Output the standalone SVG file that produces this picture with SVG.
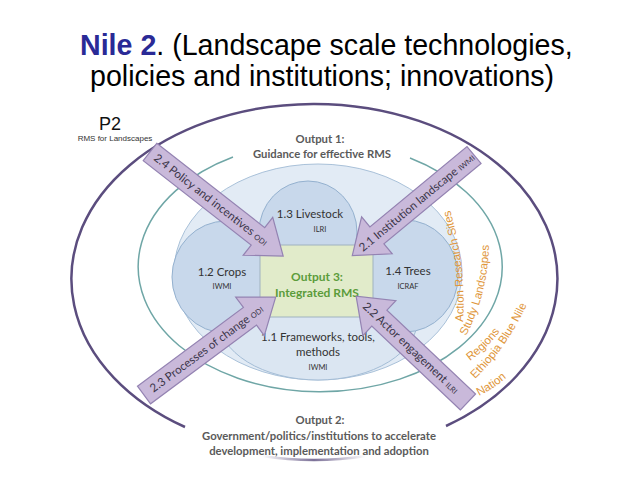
<svg xmlns="http://www.w3.org/2000/svg" width="638" height="478" viewBox="0 0 638 478">
<style>
.title{font-family:"Liberation Sans",Arial,sans-serif;font-size:28.6px;fill:#000}
.lbl{font-family:Lato,"Open Sans",sans-serif;fill:#333;text-anchor:middle}
.out{font-family:Lato,"Open Sans",sans-serif;font-weight:bold;fill:#5a5a5a;text-anchor:middle;font-size:11.3px}
.arrow{fill:#c9b9da;stroke:#9483b2;stroke-width:1.2}
.at{font-family:Lato,"Open Sans",sans-serif;font-size:11.5px;fill:#3a3548}
.sm{font-size:7.5px}
.or{font-family:"Liberation Sans",Arial,sans-serif;font-size:11.5px;fill:#e0963a}
.circ{fill:#c8d8eb;stroke:#94b1cf;stroke-width:1}
</style>
<defs>
<linearGradient id="fade" x1="0" x2="1" y1="0" y2="0">
<stop offset="0" stop-color="#5b4d7e" stop-opacity="0"/>
<stop offset="0.5" stop-color="#5b4d7e" stop-opacity="0.8"/>
<stop offset="1" stop-color="#5b4d7e" stop-opacity="0"/>
</linearGradient>
<path id="p1" d="M463,322 Q467,262 447,200"/>
<path id="p2" d="M466,336 Q488,294 489,244"/>
<path id="p3" d="M470,361 Q489,347 503,327"/>
<path id="p4" d="M475,379 Q509,346 531,296"/>
<path id="p5" d="M479,396 Q495,388 511,374"/>
</defs>
<rect width="638" height="478" fill="#fff"/>

<g id="title">
<text class="title" x="80" y="55"><tspan font-weight="bold" fill="#2a2a96">Nile 2</tspan>. (Landscape scale technologies,</text>
<text class="title" x="90" y="86">policies and institutions; innovations)</text>
</g>
<g id="p2label">
<text x="110" y="130" font-family="Liberation Sans,Arial,sans-serif" font-size="18" text-anchor="middle" fill="#111">P2</text>
<text x="115" y="141" font-family="Liberation Sans,Arial,sans-serif" font-size="8" text-anchor="middle" fill="#333">RMS for Landscapes</text>
</g>

<g id="rings">
<path d="M185,427 A243,175 0 1 1 446,426" fill="none" stroke="#5b4d7e" stroke-width="2.5"/>
<path d="M262,456 A243,175 0 0 0 366,456" fill="none" stroke="url(#fade)" stroke-width="2.5"/>
<path d="M233,157 A182,125 0 1 0 410,158" fill="none" stroke="#6fa6a6" stroke-width="1.5"/>
<ellipse cx="318" cy="272" rx="144" ry="108" fill="#e2ebf5" stroke="#a9c1d9" stroke-width="1"/>
</g>

<g id="n11">
<ellipse cx="318" cy="318" rx="100" ry="62" fill="#dbe6f2" stroke="#a4bdd6" stroke-width="1"/>
<text class="lbl" x="318" y="341" font-size="11.5">1.1 Frameworks, tools,</text>
<text class="lbl" x="318" y="356" font-size="11.5">methods</text>
<text class="lbl" x="318" y="370" font-size="7.5">IWMI</text>
</g>
<g id="n12">
<ellipse class="circ" cx="226" cy="277" rx="54" ry="56"/>
<text class="lbl" x="222" y="276" font-size="11.5">1.2 Crops</text>
<text class="lbl" x="222" y="289" font-size="7.5">IWMI</text>
</g>
<g id="n14">
<ellipse class="circ" cx="405" cy="276" rx="53" ry="56"/>
<text class="lbl" x="408" y="275" font-size="11.5">1.4 Trees</text>
<text class="lbl" x="408" y="289" font-size="7.5">ICRAF</text>
</g>
<g id="n13">
<ellipse class="circ" cx="308" cy="232" rx="49" ry="51"/>
<text class="lbl" x="310" y="218" font-size="11.5">1.3 Livestock</text>
<text class="lbl" x="320" y="232" font-size="7.5">ILRI</text>
</g>
<g id="n3">
<rect x="260" y="245" width="113" height="72" fill="#e1ebca" stroke="#9fb2bf" stroke-width="1"/>
<text x="317" y="281" font-family="Lato,'Open Sans',sans-serif" font-weight="bold" font-size="12" fill="#5b9c3b" text-anchor="middle">Output 3:</text>
<text x="317" y="297" font-family="Lato,'Open Sans',sans-serif" font-weight="bold" font-size="12" fill="#5b9c3b" text-anchor="middle">Integrated RMS</text>
</g>

<g id="out1">
<text class="out" x="320" y="143">Output 1:</text>
<text class="out" x="322" y="158">Guidance for effective RMS</text>
</g>
<g id="out2">
<text class="out" x="320" y="424">Output 2:</text>
<text class="out" x="319" y="440">Government/politics/institutions to accelerate</text>
<text class="out" x="319" y="455">development, implementation and adoption</text>
</g>

<g id="scales">
<text class="or"><textPath href="#p1">Action Research Sites</textPath></text>
<text class="or"><textPath href="#p2">Study Landscapes</textPath></text>
<text class="or"><textPath href="#p3">Regions</textPath></text>
<text class="or"><textPath href="#p4">Ethiopia Blue Nile</textPath></text>
<text class="or"><textPath href="#p5">Nation</textPath></text>
</g>

<g id="connectors">
<g id="a24" transform="translate(150,152) rotate(38)">
<polygon class="arrow" points="0,-11 137,-11 137,-24 169,0 137,24 137,11 0,11"/>
<text class="at" x="7" y="4">2.4 Policy and incentives <tspan class="sm">ODI</tspan></text>
</g>
<g id="a21">
<polygon class="arrow" transform="translate(474,155) rotate(140.4)" points="0,-11 126,-11 126,-24 158,0 126,24 126,11 0,11"/>
<text class="at" transform="translate(352,256) rotate(-39.6)" x="11" y="4">2.1 Institution landscape <tspan class="sm">IWMI</tspan></text>
</g>
<g id="a22">
<polygon class="arrow" transform="translate(468,402) rotate(-136.6)" points="0,-11 122,-11 122,-24 154,0 122,24 122,11 0,11"/>
<text class="at" transform="translate(356,296) rotate(43.4)" x="12" y="4">2.2 Actor engagement <tspan class="sm">ILRI</tspan></text>
</g>
<g id="a23" transform="translate(144,395) rotate(-36.6)">
<polygon class="arrow" points="0,-11 132,-11 132,-24 164,0 132,24 132,11 0,11"/>
<text class="at" x="9" y="4">2.3 Processes of change <tspan class="sm">ODI</tspan></text>
</g>
</g>
</svg>
